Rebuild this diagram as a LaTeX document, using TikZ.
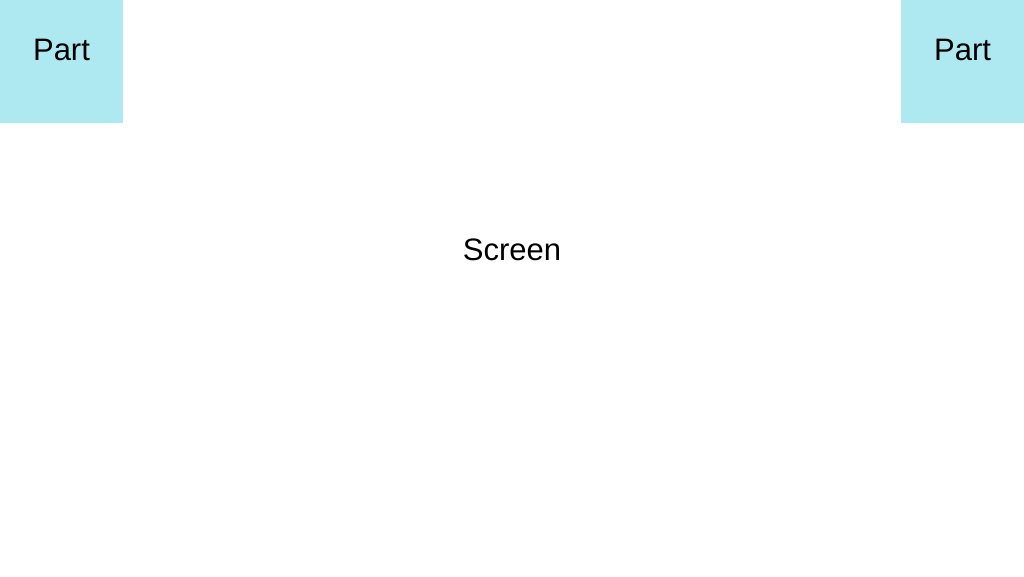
\documentclass[tikz,border=0pt]{standalone}
\usepackage{fontspec}
\setmainfont{Liberation Sans}
\definecolor{partfill}{RGB}{174,232,240}
\begin{document}
\begin{tikzpicture}[x=1pt,y=-1pt,
  partbox/.style={fill=partfill,draw=none,minimum width=123pt,minimum height=123pt,inner sep=0pt,anchor=north west,font=\fontsize{31}{36}\selectfont},
  label/.style={font=\fontsize{31}{36}\selectfont,inner sep=0pt}]
\useasboundingbox (0,0) rectangle (1024,576);
\node[partbox] (left) at (0,0) {};
\node[label] (lefttxt) at (61.5,50) {Part};
\node[partbox] (right) at (901,0) {};
\node[label] (righttxt) at (962.5,50) {Part};
\node[label] (screen) at (512,250) {Screen};
\end{tikzpicture}
\end{document}
